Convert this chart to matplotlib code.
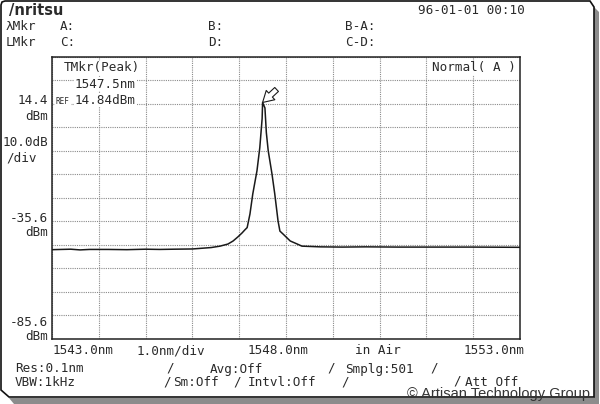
import matplotlib
matplotlib.use("Agg")
import numpy as np
import matplotlib.pyplot as plt
from matplotlib.patches import Polygon

# ---------------- data ----------------
wavelength_nm = [1543.0, 1543.4, 1543.6, 1543.8, 1544.2, 1544.6, 1545.0, 1545.3,
                 1545.6, 1546.0, 1546.2, 1546.4, 1546.59, 1546.76, 1546.87, 1546.97,
                 1547.06, 1547.12, 1547.17, 1547.23, 1547.29, 1547.38, 1547.44,
                 1547.49, 1547.5, 1547.55, 1547.58, 1547.62, 1547.70, 1547.76,
                 1547.83, 1547.87, 1547.94, 1548.09, 1548.24, 1548.34, 1548.73,
                 1549.2, 1549.7, 1550.4, 1551.0, 1552.0, 1553.0]
power_dbm = [-47.8, -47.6, -47.9, -47.7, -47.7, -47.8, -47.6, -47.7,
             -47.6, -47.5, -47.2, -46.9, -46.3, -45.4, -44.1, -42.4,
             -40.7, -39.4, -38.4, -32.6, -24.1, -14.2, -4.4,
             8.0, 14.84, 12.5, 2.0, -5.7, -15.5, -24.1,
             -35.6, -39.9, -41.2, -44.1, -45.4, -46.3, -46.6,
             -46.7, -46.6, -46.7, -46.7, -46.7, -46.8]

x_start, x_stop = 1543.0, 1553.0
ref_level = 14.4
db_per_div = 10.0
peak_wl = 1547.5
peak_level = 14.84
y_label_values = ["14.4", "-35.6", "-85.6"]
x_label_texts = ["1543.0nm", "1548.0nm", "1553.0nm"]

W, H = 600, 404
MONO = "DejaVu Sans Mono"
FS = 9.1
TXT = "#2a2a2a"

fig = plt.figure(figsize=(W / 100, H / 100), dpi=100)
fig.patch.set_facecolor("white")

# ---------------- plot area ----------------
L, R, T, B = 52, 520, 56.5, 338.5
ax = fig.add_axes([L / W, 1 - B / H, (R - L) / W, (B - T) / H])
ymin = ref_level - 10 * db_per_div
ymax = ref_level + 2 * db_per_div
ax.set_xlim(x_start, x_stop)
ax.set_ylim(ymin, ymax)
ax.set_xticks(np.linspace(x_start, x_stop, 11))
ax.set_yticks(np.arange(ymin, ymax + 0.01, db_per_div))
ax.tick_params(length=0, labelbottom=False, labelleft=False)
ax.grid(True, color="#8a8a8a", linestyle=(0, (1, 1)), linewidth=0.8)
for s in ax.spines.values():
    s.set_linewidth(1.1)
    s.set_color("#222222")

ax.plot(wavelength_nm, power_dbm, color="#1a1a1a", lw=1.1, zorder=3)

ax.annotate("", xy=(peak_wl, peak_level), xytext=(14, 13),
            textcoords="offset pixels",
            arrowprops=dict(arrowstyle="simple,head_length=0.6,head_width=0.7,tail_width=0.3",
                            mutation_scale=13, fc="white", ec="#1a1a1a", lw=0.8,
                            shrinkA=0, shrinkB=0),
            zorder=4)

# ---------------- overlay (screen texts & frame) ----------------
ov = fig.add_axes([0, 0, 1, 1], zorder=5)
ov.set_xlim(0, W)
ov.set_ylim(H, 0)
ov.axis("off")
ov.patch.set_alpha(0)


def t(x, y, s, ha="left", bg=False, **kw):
    kw.setdefault("fontsize", FS)
    kw.setdefault("family", MONO)
    bbox = dict(facecolor="white", edgecolor="none", pad=0.5) if bg else None
    ov.text(x, y, s, ha=ha, va="center", color=TXT, bbox=bbox, **kw)


# header
t(9, 11, "/nritsu", family="DejaVu Sans", fontweight="bold", fontsize=10.5)
t(525, 10, "96-01-01 00:10", ha="right")
t(6, 27, "λMkr")
t(60, 27, "A:")
t(208, 27, "B:")
t(345, 27, "B-A:")
t(6, 43, "LMkr")
t(60, 43, "C:")
t(208, 43, "D:")
t(345, 43, "C-D:")

# marker readout inside the grid
t(140, 68, "TMkr(Peak)", ha="right", bg=True)
t(136, 84, "1547.5nm", ha="right", bg=True)
t(136, 100, "14.84dBm", ha="right", bg=True)
t(56, 102, "REF", fontsize=5.5, bg=True)
t(516, 68, "Normal( A )", ha="right", bg=True)

# left scale
t(48, 100, y_label_values[0], ha="right")
t(48, 117, "dBm", ha="right")
t(48, 143, "10.0dB", ha="right")
t(6, 158, "/div")
t(48, 218, y_label_values[1], ha="right")
t(48, 233, "dBm", ha="right")
t(48, 323, y_label_values[2], ha="right")
t(48, 337, "dBm", ha="right")

# bottom scale
t(53, 351, x_label_texts[0])
t(137, 351, "1.0nm/div")
t(248, 351, x_label_texts[1])
t(355, 351, "in Air")
t(525, 351, x_label_texts[2], ha="right")

# status lines
t(15, 369, "Res:0.1nm")
t(166, 368, "/")
t(210, 369, "Avg:Off")
t(327, 368, "/")
t(345, 369, "Smplg:501")
t(430, 368, "/")
t(15, 383, "VBW:1kHz")
t(163, 382, "/")
t(173, 383, "Sm:Off")
t(233, 382, "/")
t(248, 383, "Intvl:Off")
t(341, 382, "/")
t(453, 381, "/")
t(465, 382, "Att Off")

# watermark
ov.text(590, 394, "© Artisan Technology Group", ha="right", va="center",
        family="Liberation Sans", fontsize=10.5, color="#333333")

# screen frame and shadow
shadow = Polygon([(594, 7), (599, 12), (599, 404), (14, 404), (9, 398), (594, 398)],
                 closed=True, facecolor="#8c8c8c", edgecolor="none", zorder=1)
ov.add_patch(shadow)
frame = Polygon([(1, 5), (2, 2), (5, 1), (590, 1), (594, 7), (594, 397),
                 (9, 397), (1, 390)],
                closed=True, facecolor="none", edgecolor="#111111", lw=1.2, zorder=2)
ov.add_patch(frame)

fig.savefig("out.png", dpi=100, facecolor="white")
